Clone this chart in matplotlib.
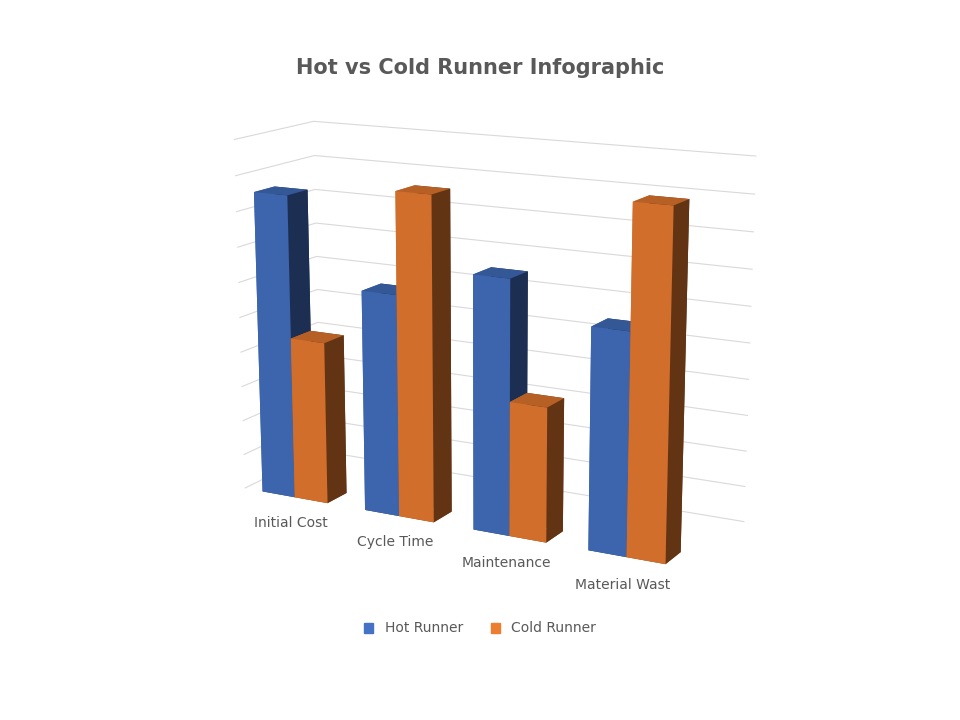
import numpy as np
import matplotlib.pyplot as plt
from matplotlib.patches import Patch

categories = ["Initial Cost", "Cycle Time", "Maintenance", "Material Wast"]
hot = [8.6, 6.2, 7.0, 6.0]
cold = [4.6, 9.0, 3.7, 9.3]

fig = plt.figure(figsize=(9.6, 7.2), dpi=100)
ax = fig.add_axes([-0.05, 0.1, 1.1, 0.86], projection='3d')
ax.set_proj_type('persp', focal_length=0.6)

x = np.arange(len(categories))
w = 0.32
ax.bar3d(x - w, np.zeros(4), np.zeros(4), w, 0.3, hot, color='#4472c4', shade=True, edgecolor='none')
ax.bar3d(x, np.zeros(4), np.zeros(4), w, 0.3, cold, color='#ed7d31', shade=True, edgecolor='none')

ax.set_xlim(-0.5, 3.5)
ax.set_ylim(0, 1.2)
ax.set_zlim(0, 10)
ax.set_xticks(x)
ax.set_xticklabels(categories, color='#595959', fontsize=10)
ax.set_yticks([])
ax.set_zticks(np.arange(0, 11, 1))
ax.set_zticklabels([])
for a in (ax.xaxis, ax.yaxis, ax.zaxis):
    a.set_pane_color((1, 1, 1, 0))
    a.line.set_color((1, 1, 1, 0))
    a._axinfo['grid']['color'] = '#d9d9d9'
    a._axinfo['tick']['inward_factor'] = 0
    a._axinfo['tick']['outward_factor'] = 0
ax.xaxis._axinfo['grid']['color'] = (1, 1, 1, 0)
ax.yaxis._axinfo['grid']['color'] = (1, 1, 1, 0)
ax.view_init(elev=14, azim=-62)
ax.set_box_aspect((3.4, 1.0, 2.5))

fig.suptitle("Hot vs Cold Runner Infographic", y=0.92, fontsize=15, fontweight='bold', color='#595959')
fig.legend(handles=[Patch(color='#4472c4', label='Hot Runner'), Patch(color='#ed7d31', label='Cold Runner')],
           loc='lower center', bbox_to_anchor=(0.5, 0.1), ncol=2, frameon=False, fontsize=10,
           handlelength=0.7, handleheight=0.7, labelcolor='#595959')
fig.savefig('out.png')
